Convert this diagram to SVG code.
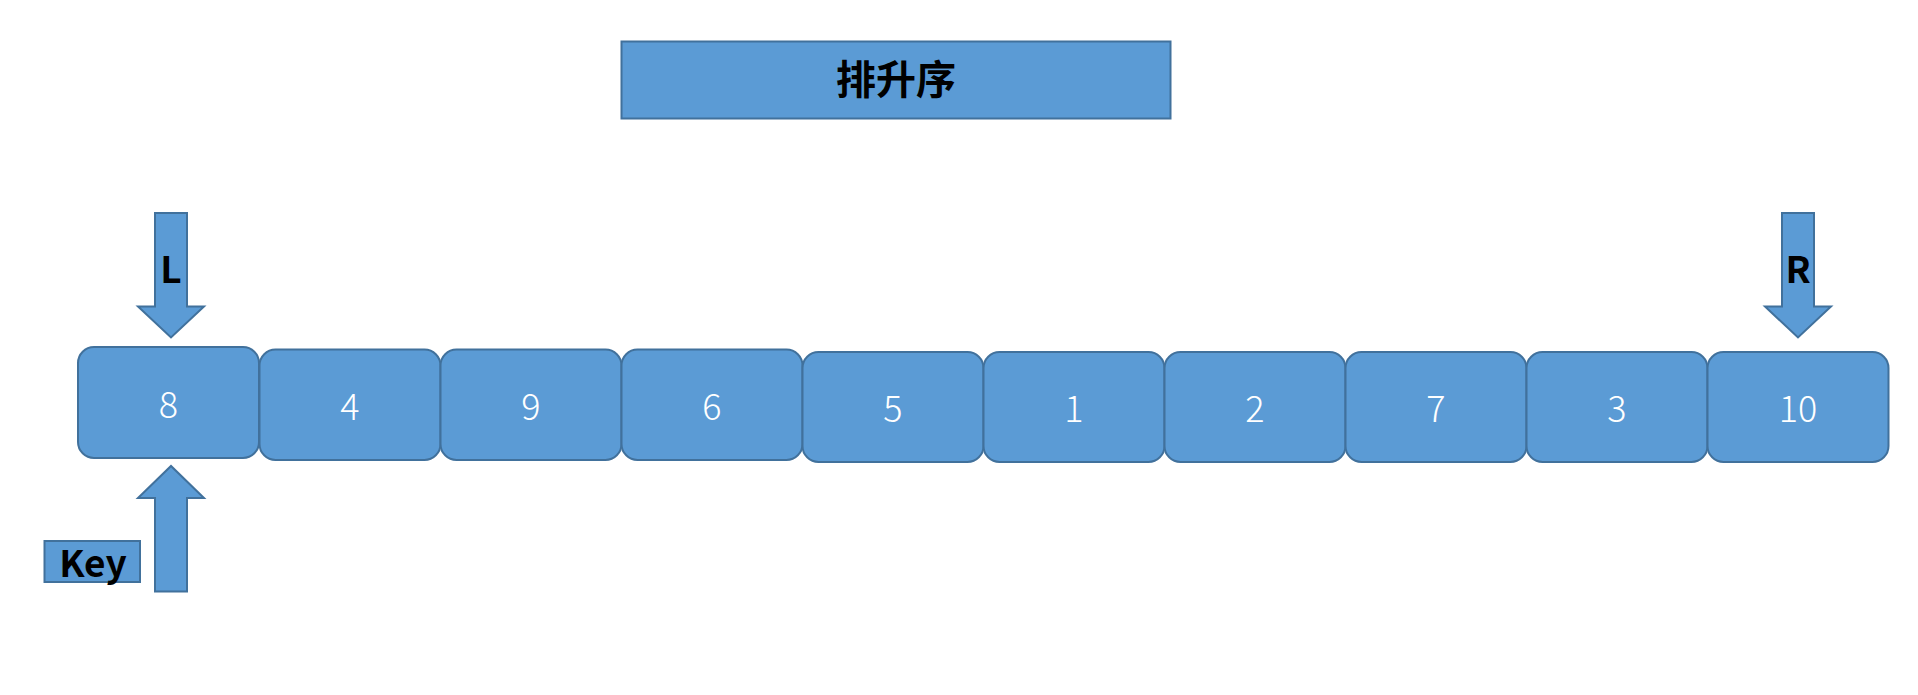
<svg xmlns="http://www.w3.org/2000/svg" width="1918" height="695" viewBox="0 0 1918 695">
<style>
.shape{fill:#5B9BD5;stroke:#41719C;stroke-width:2}
.num{font-family:"Noto Sans CJK SC","Noto Sans",sans-serif;font-weight:300;font-size:36px;fill:#FFFFFF;text-anchor:middle}
.lbl{font-family:"Noto Sans CJK SC","Noto Sans",sans-serif;font-weight:700;font-size:37px;fill:#000000;text-anchor:middle}
.title{font-family:"Noto Sans CJK SC",sans-serif;font-weight:700;font-size:40px;fill:#000000;text-anchor:middle}
</style>
<rect width="1918" height="695" fill="#FFFFFF"/>
<g id="title">
<rect class="shape" x="621.5" y="41.5" width="549" height="77"/>
<text class="title" x="896" y="94">排升序</text>
</g>
<g id="node-8"><rect class="shape" x="78" y="347" width="181" height="111" rx="16"/><text class="num" x="168.5" y="418">8</text></g>
<g id="node-4"><rect class="shape" x="259.5" y="349.5" width="181" height="110.5" rx="16"/><text class="num" x="350" y="420">4</text></g>
<g id="node-9"><rect class="shape" x="440.5" y="349.5" width="181" height="110.5" rx="16"/><text class="num" x="531" y="420">9</text></g>
<g id="node-6"><rect class="shape" x="621.5" y="349.5" width="181" height="110.5" rx="16"/><text class="num" x="712" y="420">6</text></g>
<g id="node-5"><rect class="shape" x="802.5" y="352" width="181" height="110" rx="16"/><text class="num" x="893" y="422">5</text></g>
<g id="node-1"><rect class="shape" x="983.5" y="352" width="181" height="110" rx="16"/><text class="num" x="1074" y="422">1</text></g>
<g id="node-2"><rect class="shape" x="1164.5" y="352" width="181" height="110" rx="16"/><text class="num" x="1255" y="422">2</text></g>
<g id="node-7"><rect class="shape" x="1345.5" y="352" width="181" height="110" rx="16"/><text class="num" x="1436" y="422">7</text></g>
<g id="node-3"><rect class="shape" x="1526.5" y="352" width="181" height="110" rx="16"/><text class="num" x="1617" y="422">3</text></g>
<g id="node-10"><rect class="shape" x="1707.5" y="352" width="181" height="110" rx="16"/><text class="num" x="1798" y="422">10</text></g>
<g id="connectors">
<g id="arrow-L">
<path class="shape" d="M155,213 H187 V306.5 H204 L171,337.5 L138,306.5 H155 Z"/>
<text class="lbl" x="171" y="283">L</text>
</g>
<g id="arrow-R">
<path class="shape" d="M1782,213 H1814 V306.5 H1831 L1798,337.5 L1765,306.5 H1782 Z"/>
<text class="lbl" x="1798" y="283">R</text>
</g>
<g id="arrow-Key">
<path class="shape" d="M155,591.5 H187 V498 H204 L171,466 L138,498 H155 Z"/>
</g>
</g>
<g id="key">
<rect class="shape" x="44.5" y="541" width="95.5" height="41"/>
<text class="lbl" x="93" y="577">Key</text>
</g>
</svg>
